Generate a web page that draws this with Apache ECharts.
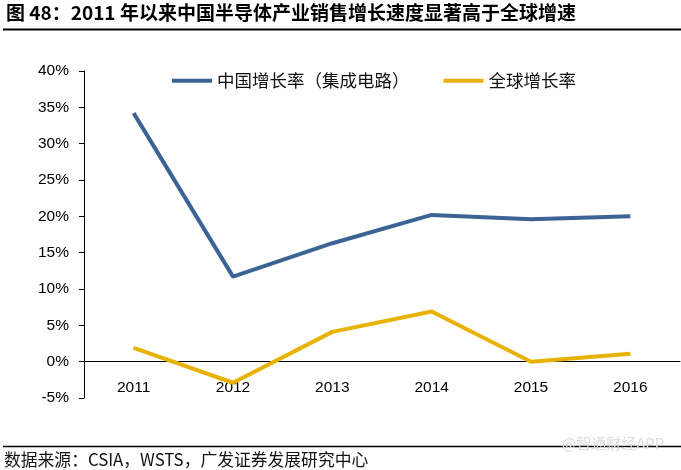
<!DOCTYPE html>
<html>
<head>
<meta charset="utf-8">
<script src="https://cdn.jsdelivr.net/npm/echarts@6/dist/echarts.min.js"></script>
<style>
  html, body { margin: 0; padding: 0; background: #fff; }
  #chart { width: 681px; height: 470px; }
</style>
</head>
<body>
<div id="chart"></div>
<script>
const years = ['2011', '2012', '2013', '2014', '2015', '2016'];
const chinaGrowth = [34.2, 11.7, 16.3, 20.2, 19.6, 20.0];
const globalGrowth = [1.9, -2.9, 4.1, 6.9, 0.0, 1.1];
const seriesNames = ['中国增长率（集成电路）', '全球增长率'];

const cjk = '"Noto Sans CJK SC", sans-serif';
const latin = '"Liberation Sans", Arial, sans-serif';

// 0% 线距绘图区底部的距离：327px 高度对应 45 个百分点
const zeroOffset = -327 * 5 / 45;

let chart = echarts.init(document.getElementById('chart'));
chart.setOption({
  animation: false,
  textStyle: { fontFamily: latin },
  grid: { left: 84, right: 1, top: 71, bottom: 72 },
  legend: {
    top: 67,
    left: 167,
    itemWidth: 40,
    itemHeight: 4,
    itemGap: 34,
    icon: 'rect',
    textStyle: { fontFamily: cjk, fontSize: 17.5, color: '#111' },
    data: seriesNames,
  },
  xAxis: {
    type: 'category',
    data: years,
    offset: zeroOffset,
    axisLine: { onZero: false, lineStyle: { color: '#000', width: 1 } },
    axisTick: { show: false },
    axisLabel: { margin: 18, fontSize: 15.5, color: '#000', fontFamily: latin },
  },
  yAxis: {
    type: 'value',
    min: -5,
    max: 40,
    interval: 5,
    splitLine: { show: false },
    axisLine: { show: true, lineStyle: { color: '#000', width: 1 } },
    axisTick: { show: true, length: 5, lineStyle: { color: '#000' } },
    axisLabel: { formatter: '{value}%', fontSize: 15.5, color: '#000', margin: 15, fontFamily: latin },
  },
  series: [
    {
      name: seriesNames[0],
      type: 'line',
      data: chinaGrowth,
      symbol: 'none',
      lineStyle: { color: '#3B6494', width: 4 },
      itemStyle: { color: '#3B6494' },
    },
    {
      name: seriesNames[1],
      type: 'line',
      data: globalGrowth,
      symbol: 'none',
      lineStyle: { color: '#E8B204', width: 4 },
      itemStyle: { color: '#E8B204' },
    },
  ],
  graphic: [
    {
      type: 'text',
      left: 6,
      top: 3,
      style: {
        text: '图 48：2011 年以来中国半导体产业销售增长速度显著高于全球增速',
        font: 'bold 19px "Noto Sans CJK SC", sans-serif',
        fill: '#000',
      },
    },
    {
      type: 'line',
      shape: { x1: 3, y1: 29.5, x2: 681, y2: 29.5 },
      style: { stroke: '#000', lineWidth: 2 },
    },
    {
      type: 'line',
      shape: { x1: 3, y1: 446.5, x2: 681, y2: 446.5 },
      style: { stroke: '#000', lineWidth: 1.5 },
    },
    {
      type: 'text',
      left: 4,
      top: 451,
      style: {
        text: '数据来源：CSIA，WSTS，广发证券发展研究中心',
        font: '16.8px "Noto Sans CJK SC", sans-serif',
        fill: '#111',
      },
    },
    {
      type: 'text',
      left: 562,
      top: 436,
      style: {
        text: '@智通财经APP',
        font: '15px "Noto Sans CJK SC", sans-serif',
        fill: '#ddd',
      },
    },
  ],
});
</script>
</body>
</html>
